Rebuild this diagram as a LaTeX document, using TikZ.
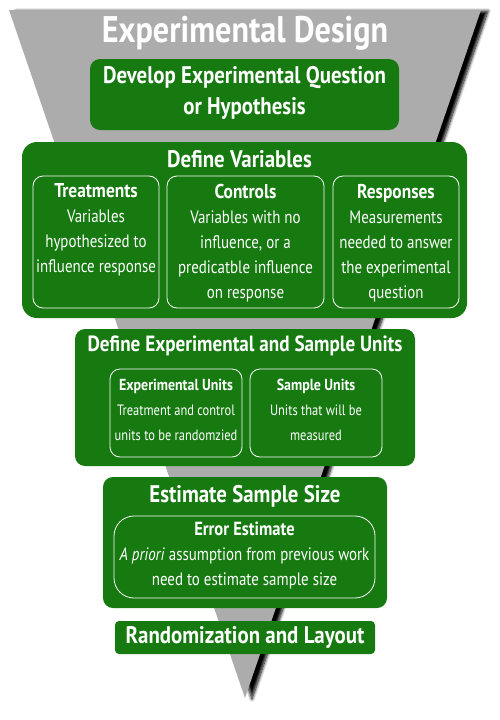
\documentclass[tikz,border=0pt]{standalone}
\usepackage{fontspec}
\setmainfont{PT Sans}[FakeStretch=0.83, BoldFeatures={FakeStretch=0.87}]
\usetikzlibrary{positioning,shadows.blur}

\definecolor{stagegreen}{RGB}{22,122,16}
\definecolor{funnelgray}{RGB}{172,172,172}

\newcommand{\subhead}[2][20]{{\bfseries\fontsize{#1}{25}\selectfont #2}}

\tikzset{
  stagebox/.style={fill=stagegreen, rounded corners=10pt, inner sep=0pt},
  subbox/.style={draw=white, line width=0.8pt, rounded corners=10pt, inner sep=0pt},
  stagetext/.style={text=white, align=center, inner sep=0pt, font=\bfseries\fontsize{24}{31}\selectfont},
  subtext/.style={text=white, align=center, inner sep=0pt, font=\fontsize{18}{25}\selectfont},
}

\begin{document}
\begin{tikzpicture}[x=1pt,y=1pt,yscale=-1]
\useasboundingbox (0,0) rectangle (499,720);

%Shape: Funnel
\path [fill=funnelgray, blur shadow={shadow xshift=7pt, shadow yshift=-1pt, shadow blur radius=3pt, shadow blur steps=8, shadow opacity=100}] (9,10) -- (481,10) -- (245,698) -- cycle ;

% Text Node
\node [stagetext, font=\bfseries\fontsize{37}{40}\selectfont] (title) at (245,33) {Experimental Design};

%Shape: Rectangle
\node [stagebox, minimum width=309pt, minimum height=71pt] (question) at (244.5,94.5) {};
\node [stagetext] (questiontxt) at (244.5,92.5) {Develop Experimental Question\\or Hypothesis};

%Shape: Rectangle
\node [stagebox, rounded corners=15pt, minimum width=445pt, minimum height=176pt] (variables) at (244.5,230) {};
\node [stagetext, below=8pt of variables.north, xshift=-5pt] (variablestxt) {Define Variables};
\node [subbox, minimum width=126pt, minimum height=132pt] (treatments) at (96,242) {};
\node [subbox, minimum width=157pt, minimum height=132pt] (controls) at (245.5,242) {};
\node [subbox, minimum width=126pt, minimum height=132pt] (responses) at (396,242) {};
% Text Node
\node [subtext, below=8pt of treatments.north] (treatmentstxt) {\subhead{Treatments}\\Variables\\hypothesized to\\influence response};
\node [subtext, below=8pt of controls.north] (controlstxt) {\subhead{Controls}\\Variables with no\\influence, or a\\predicatble influence\\on response};
\node [subtext, below=8pt of responses.north] (responsestxt) {\subhead{Responses}\\Measurements\\needed to answer\\the experimental\\question};

%Shape: Rectangle
\node [stagebox, minimum width=340pt, minimum height=137pt] (units) at (245,397.5) {};
\node [stagetext, font=\bfseries\fontsize{22}{31}\selectfont, below=7pt of units.north] (unitstxt) {Define Experimental and Sample Units};
\node [subbox, minimum width=132pt, minimum height=88pt] (expunits) at (176,413) {};
\node [subbox, minimum width=132pt, minimum height=88pt] (sampunits) at (316,413) {};
% Text Node
\node [subtext, font=\fontsize{15}{25}\selectfont, below=10pt of expunits.north] (expunitstxt) {\subhead[16]{Experimental Units}\\Treatment and control\\units to be randomzied};
\node [subtext, font=\fontsize{15}{25}\selectfont, below=10pt of sampunits.north] (sampunitstxt) {\subhead[16]{Sample Units}\\Units that will be\\measured};

%Shape: Rectangle
\node [stagebox, minimum width=284pt, minimum height=131pt] (samplesize) at (245,542.5) {};
\node [stagetext, below=8pt of samplesize.north] (samplesizetxt) {Estimate Sample Size};
\node [subbox, rounded corners=20pt, minimum width=261pt, minimum height=82pt] (error) at (244.5,557) {};
% Text Node
\node [subtext, below=6pt of error.north] (errortxt) {\subhead[19]{Error Estimate}\\\textit{A priori} assumption from previous work\\need to estimate sample size};

%Shape: Rectangle
\node [stagebox, rounded corners=4pt, minimum width=260pt, minimum height=33pt] (layout) at (245,637.5) {};
\node [stagetext] (layouttxt) at (layout) {Randomization and Layout};

\end{tikzpicture}
\end{document}
